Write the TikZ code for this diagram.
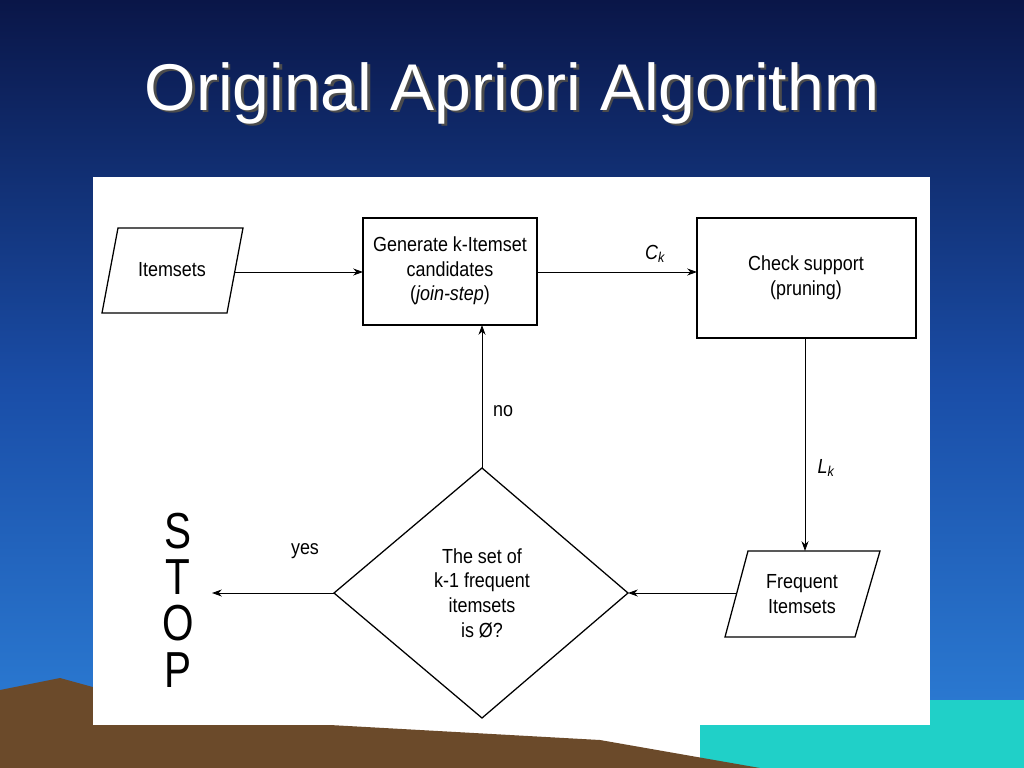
\documentclass[tikz,border=0pt]{standalone}
\usepackage{fontspec}
\setmainfont{Liberation Sans}
\usetikzlibrary{shapes.geometric,arrows.meta}
\definecolor{navy}{HTML}{0A1648}
\definecolor{midblue}{HTML}{1A4EA8}
\definecolor{lowblue}{HTML}{2A78D0}
\definecolor{mount}{HTML}{6B4A2A}
\definecolor{teal}{HTML}{20D0C8}
\begin{document}
\begin{tikzpicture}[x=0.025cm,y=-0.025cm,
  lbl/.style={font=\fontsize{14.5}{17.5}\selectfont,align=center,inner sep=0pt,xscale=0.88},
  box/.style={draw,line width=0.9pt},
  arr/.style={-{Stealth[length=7pt,width=5pt]},line width=0.7pt}]
\useasboundingbox (0,0) rectangle (1024,768);
\shade[top color=navy,bottom color=midblue] (0,0) rectangle (1024,390);
\shade[top color=midblue,bottom color=lowblue] (0,390) rectangle (1024,700);
\fill[teal] (700,700) rectangle (1024,768);
\fill[mount] (0,690) -- (60,678) -- (140,700) -- (330,725) -- (600,740) -- (760,768) -- (0,768) -- cycle;
\node[text=black!70,font=\fontsize{47}{56}\selectfont,anchor=center,inner sep=0pt] (shadow) at (514.5,95.5) {Original Apriori Algorithm};
\node[text=white,font=\fontsize{47}{56}\selectfont,anchor=center,inner sep=0pt] (title) at (512,93) {Original Apriori Algorithm};
\fill[white] (93,177) rectangle (930,725);
% nodes
\draw[box] (118,228) -- (243,228) -- (227,313) -- (102,313) -- cycle;
\node[lbl] (items) at (172,270) {Itemsets};
\coordinate (itemsR) at (235,272);
\draw[box] (363,218) rectangle (537,325);
\node[lbl] (gen) at (450,271) {Generate k-Itemset\\candidates\\(\textit{join-step})};
\draw[box] (697,218) rectangle (916,338);
\node[lbl] (chk) at (806,278) {Check support\\(pruning)};
\draw[box] (748,551) -- (880,551) -- (855,637) -- (725,637) -- cycle;
\node[lbl] (freq) at (802,594) {Frequent\\Itemsets};
\draw[box] (482,468) -- (628,593) -- (482,718) -- (334,593) -- cycle;
\node[lbl] (dia) at (482,593) {The set of\\k-1 frequent\\itemsets\\is Ø?};
\coordinate (stopA) at (212,593);
% connectors
\draw[arr] (itemsR) -- (363,272);
\draw[arr] (537,272) -- (697,272);
\node[lbl] (ck) at (655,254) {\textit{C\textsubscript{k}}};
\draw[arr] (805,338) -- (805,551);
\node[lbl] (lk) at (826,468) {\textit{L\textsubscript{k}}};
\draw[arr] (737,593) -- (628,593);
\draw[arr] (482,468) -- (482,325);
\node[lbl] (no) at (503,411) {no};
\draw[arr] (334,593) -- (stopA);
\node[lbl] (yes) at (305,551) {yes};
\node[font=\fontsize{36}{33}\selectfont,align=center,inner sep=0pt,xscale=0.8] (stop) at (178,600) {S\\T\\O\\P};
\end{tikzpicture}
\end{document}
